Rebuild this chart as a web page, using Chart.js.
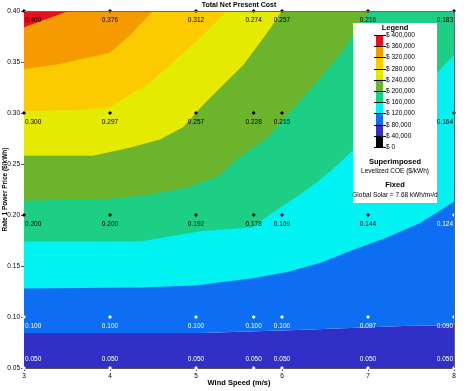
<!DOCTYPE html>
<html>
<head>
<meta charset="utf-8">
<script src="https://cdn.jsdelivr.net/npm/chart.js@4.4.0/dist/chart.umd.min.js"></script>
<style>
  html, body { margin: 0; padding: 0; background: #fff; }
</style>
</head>
<body>
<canvas id="myChart" width="474" height="391"></canvas>
<script>
// sensitivity grid
const windSpeeds = [3, 4, 5, 5.67, 6, 7, 8];
const powerPrices = [0.4, 0.3, 0.2, 0.1, 0.05];

// superimposed levelized COE ($/kWh), one row per power price
const coeAt040 = [0.400, 0.376, 0.312, 0.274, 0.257, 0.216, 0.183];
const coeAt030 = [0.300, 0.297, 0.257, 0.228, 0.215, null, 0.164];
const coeAt020 = [0.200, 0.200, 0.192, 0.178, 0.169, 0.144, 0.124];
const coeAt010 = [0.100, 0.100, 0.100, 0.100, 0.100, 0.097, 0.090];
const coeAt005 = [0.050, 0.050, 0.050, 0.050, 0.050, 0.050, 0.050];
const coeRows = [coeAt040, coeAt030, coeAt020, coeAt010, coeAt005];

// legend levels (top to bottom) and band colours
const npcLevels = [400000, 360000, 320000, 280000, 240000, 200000, 160000, 120000, 80000, 40000, 0];
const bandColors = ["#e8101c", "#f59b00", "#fbcb00", "#e4ea00", "#6bb42c",
                    "#1ccf84", "#00f2f2", "#0d6ef3", "#3030c8", "#000000"];

// contour lines of total NPC (wind speed -> price)
const npc80kX = [3, 5.05, 6.17, 7.41, 8];
const npc80kY = [0.0843, 0.0843, 0.0873, 0.0912, 0.0922];
const npc120kX = [3, 4.35, 5.0, 5.28, 5.66, 6.06, 6.44, 6.83, 7.22, 7.6, 8];
const npc120kY = [0.128, 0.129, 0.131, 0.134, 0.138, 0.144, 0.153, 0.166, 0.178, 0.192, 0.213];
const npc160kX = [3, 4.35, 5.05, 5.66, 5.9, 6.17, 6.41, 6.67, 6.83, 7.31, 7.8, 8];
const npc160kY = [0.174, 0.174, 0.184, 0.188, 0.203, 0.218, 0.232, 0.251, 0.264, 0.301, 0.339, 0.357];
const npc200kX = [3, 4.0, 4.47, 4.9, 5.28, 5.43, 5.83, 6.09, 6.33, 6.67, 7.02];
const npc200kY = [0.214, 0.216, 0.22, 0.227, 0.239, 0.252, 0.276, 0.301, 0.323, 0.357, 0.4];
const npc240kX = [3, 3.8, 4.23, 4.58, 4.85, 5.05, 5.2, 5.55, 5.83, 6.0];
const npc240kY = [0.258, 0.258, 0.266, 0.274, 0.286, 0.305, 0.318, 0.347, 0.379, 0.4];
const npc280kX = [3, 3.65, 4.0, 4.23, 4.47, 4.76, 5.05, 5.36];
const npc280kY = [0.302, 0.303, 0.306, 0.318, 0.33, 0.352, 0.374, 0.4];
const npc320kX = [3, 3.42, 4.0, 4.23, 4.5];
const npc320kY = [0.343, 0.348, 0.359, 0.376, 0.4];
const npc360kX = [3, 3.52];
const npc360kY = [0.384, 0.4];

const FONT = '"Liberation Sans", Arial, sans-serif';

function toPoints(xs, ys) {
  return xs.map((x, i) => ({ x: x, y: ys[i] }));
}

// lowest line first; each fills upward with the colour of the band above it
const contours = [
  [npc80kX, npc80kY, 7],
  [npc120kX, npc120kY, 6],
  [npc160kX, npc160kY, 5],
  [npc200kX, npc200kY, 4],
  [npc240kX, npc240kY, 3],
  [npc280kX, npc280kY, 2],
  [npc320kX, npc320kY, 1],
  [npc360kX, npc360kY, 0],
];

function myLoadFunction() {
  const ctx = document.getElementById("myChart").getContext("2d");

  const datasets = [];
  // band below $80,000
  datasets.push({
    data: toPoints(npc80kX, npc80kY),
    fill: "start",
    backgroundColor: bandColors[8],
    borderColor: "rgba(0,0,0,0)",
    pointRadius: 0,
    order: 200,
  });
  contours.forEach((c, i) => {
    datasets.push({
      data: toPoints(c[0], c[1]),
      fill: "end",
      backgroundColor: bandColors[c[2]],
      borderColor: "rgba(0,0,0,0)",
      pointRadius: 0,
      order: 100 - i,
    });
  });

  // grid points with COE labels
  const gridPts = [];
  const gridLabels = [];
  const gridLight = [];
  powerPrices.forEach((p, r) => {
    windSpeeds.forEach((w, c) => {
      if (coeRows[r][c] === null) return;
      gridPts.push({ x: w, y: p });
      gridLabels.push(coeRows[r][c].toFixed(3));
      gridLight.push(p <= 0.1 || (w === 8 && p === 0.2));
    });
  });
  const markColors = gridLight.map((l) => (l ? "#ffffff" : "#000000"));
  datasets.push({
    data: gridPts,
    showLine: false,
    pointStyle: "rectRot",
    pointRadius: 2,
    pointBorderWidth: 0,
    pointBackgroundColor: markColors,
    pointBorderColor: markColors,
    clip: false,
    order: 0,
  });
  const markIndex = datasets.length - 1;

  const labelPlugin = {
    id: "coeLabels",
    afterDatasetsDraw(chart) {
      const c = chart.ctx;
      const area = chart.chartArea;
      const meta = chart.getDatasetMeta(markIndex);
      c.save();
      c.font = "6.5px " + FONT;
      c.textBaseline = "middle";
      meta.data.forEach((pt, i) => {
        const txt = gridLabels[i];
        const w = c.measureText(txt).width;
        let x = pt.x - w / 2;
        if (x < area.left + 1) x = area.left + 1;
        if (x + w > area.right - 1) x = area.right - 1 - w;
        let y = pt.y + 9;
        if (y > area.bottom - 5) y = pt.y - 9;
        c.fillStyle = gridLight[i] ? "#ffffff" : "#000000";
        c.textAlign = "left";
        c.fillText(txt, x, y);
      });
      c.restore();
    },
  };

  const frameLegendPlugin = {
    id: "frameLegend",
    afterDraw(chart) {
      const c = chart.ctx;
      const a = chart.chartArea;
      c.save();
      c.strokeStyle = "#666";
      c.lineWidth = 1;
      c.beginPath();
      c.moveTo(a.left, a.top + 0.5);
      c.lineTo(a.right + 0.5, a.top + 0.5);
      c.lineTo(a.right + 0.5, a.bottom);
      c.stroke();

      // chart title, centred over the plot area
      c.fillStyle = "#000";
      c.textAlign = "center";
      c.textBaseline = "middle";
      c.font = "bold 7px " + FONT;
      c.fillText("Total Net Present Cost", (a.left + a.right) / 2, 5);

      // legend box
      const bx = 353, by = 23, bw = 84, bh = 180;
      const cx = bx + bw / 2;
      c.fillStyle = "#ffffff";
      c.fillRect(bx, by, bw, bh);
      c.fillStyle = "#000";
      c.font = "bold 7.5px " + FONT;
      c.fillText("Legend", cx, by + 5);

      const barX = 376, barW = 7, barTop = 35, seg = 11.2;
      bandColors.forEach((col, i) => {
        c.fillStyle = col;
        c.fillRect(barX, barTop + i * seg, barW, seg + 0.5);
      });
      c.font = "6.5px " + FONT;
      c.textAlign = "left";
      npcLevels.forEach((v, i) => {
        const y = Math.round(barTop + i * seg) + 0.5;
        c.strokeStyle = "#000";
        c.beginPath();
        c.moveTo(barX - 2, y);
        c.lineTo(barX + barW + 3, y);
        c.stroke();
        c.fillStyle = "#000";
        c.fillText("$ " + v.toLocaleString("en-US"), barX + barW + 3, y);
      });

      c.textAlign = "center";
      c.font = "bold 7.5px " + FONT;
      c.fillText("Superimposed", cx, 162);
      c.font = "6.5px " + FONT;
      c.fillText("Levelized COE ($/kWh)", cx, 171);
      c.font = "bold 7.5px " + FONT;
      c.fillText("Fixed", cx, 185);
      c.font = "6.5px " + FONT;
      c.fillText("Global Solar = 7.68 kWh/m\u00b2/d", cx, 195);
      c.restore();
    },
  };

  const myChart = new Chart(ctx, {
    type: "line",
    data: { datasets: datasets },
    options: {
      responsive: false,
      animation: false,
      devicePixelRatio: 1,
      layout: { padding: { left: 0, right: 20, top: 11, bottom: 0 } },
      elements: { line: { tension: 0, borderWidth: 0 } },
      plugins: {
        legend: { display: false },
        tooltip: { enabled: false },
        title: { display: false },
      },
      scales: {
        x: {
          type: "linear",
          min: 3,
          max: 8,
          afterFit: (s) => { s.height = 23; },
          ticks: { stepSize: 1, color: "#000", padding: 1, font: { family: FONT, size: 6.5 } },
          grid: { drawOnChartArea: false, drawTicks: true, tickLength: 3, color: "#555" },
          border: { display: true, color: "#555" },
          title: {
            display: true,
            text: "Wind Speed (m/s)",
            color: "#000",
            font: { family: FONT, size: 7.5, weight: "bold" },
            padding: { top: 0, bottom: 4 },
          },
        },
        y: {
          type: "linear",
          min: 0.05,
          max: 0.4,
          afterFit: (s) => { s.width = 24; },
          ticks: {
            stepSize: 0.05,
            color: "#000",
            padding: 1,
            font: { family: FONT, size: 6.5 },
            callback: (v) => v.toFixed(2),
          },
          grid: { drawOnChartArea: false, drawTicks: true, tickLength: 3, color: "#555" },
          border: { display: true, color: "#555" },
          title: {
            display: true,
            text: "Rate 1 Power Price ($/kWh)",
            color: "#000",
            font: { family: FONT, size: 6.5, weight: "bold" },
            padding: { top: 1, bottom: 0 },
          },
        },
      },
    },
    plugins: [labelPlugin, frameLegendPlugin],
  });
}

document.addEventListener("DOMContentLoaded", myLoadFunction);
</script>
</body>
</html>
